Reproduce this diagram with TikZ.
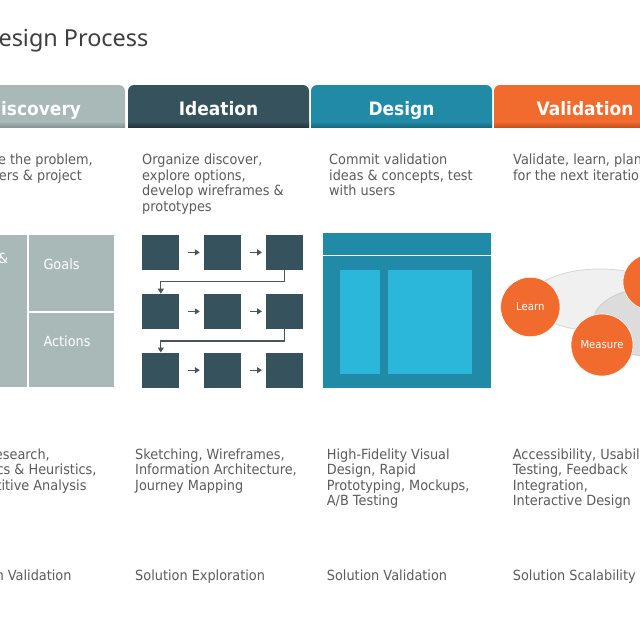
\documentclass[tikz,border=0pt]{standalone}
\usepackage{fontspec}
\setmainfont{DejaVu Sans}[FakeStretch=0.92]
\newfontfamily\titlefont{Noto Sans}
\usetikzlibrary{arrows.meta}
\definecolor{txt}{HTML}{5C5C5C}
\definecolor{ttl}{HTML}{3F3F3F}
\definecolor{disc}{HTML}{A8B9B8}
\definecolor{discs}{HTML}{859694}
\definecolor{idea}{HTML}{36525C}
\definecolor{ideas}{HTML}{22363D}
\definecolor{dsgn}{HTML}{218BA7}
\definecolor{dsgns}{HTML}{176A80}
\definecolor{dsgnl}{HTML}{2AB7D9}
\definecolor{vald}{HTML}{F26B2E}
\definecolor{valds}{HTML}{C4521F}
\definecolor{arrc}{HTML}{4A5559}
\definecolor{ellA}{HTML}{F0F0F0}
\definecolor{ellAb}{HTML}{D6D6D6}
\definecolor{ellB}{HTML}{DCDCDC}
\definecolor{ellBb}{HTML}{CCCCCC}
\newcommand\mytab[6]{%
  \fill[#3] (#1,127) [rounded corners=6pt] -- (#1,85) -- (#2,85) [sharp corners] -- (#2,127) -- cycle;
  \shade[top color=#3, bottom color=#4] (#1,121.5) rectangle (#2,127);
  \node[tabtxt] (#6) at ({(#1+#2)/2},115) {#5};}
\begin{document}
\begin{tikzpicture}[x=1pt,y=-1pt,
  desc/.style={font=\fontsize{14}{15.5}\selectfont, text=txt, inner sep=0pt},
  tabtxt/.style={font=\fontsize{18.5}{20}\selectfont\bfseries, text=white, anchor=base, inner sep=0pt},
  sq/.style={fill=idea, minimum width=37pt, minimum height=35pt, inner sep=0pt},
  arr/.style={draw=arrc, line width=1.3pt, -{Triangle[length=5pt,width=6pt]}},
  circ/.style={circle, fill=vald, draw=white, line width=0.6pt, inner sep=0pt, text=white, font=\fontsize{11}{12}\selectfont},
  boxtxt/.style={font=\fontsize{14}{15}\selectfont, text=white, inner sep=0pt, anchor=base west}]
\useasboundingbox (0,0) rectangle (640,640);
\clip (0,0) rectangle (640,640);
\fill[white] (0,0) rectangle (640,640);

% title
\node[font=\titlefont\fontsize{23.4}{26}\selectfont, text=ttl, anchor=base east, inner sep=0pt] (title) at (148.5,46) {Design Process};

% tabs
\mytab{-57}{125}{disc}{discs}{Discovery}{tdisc}
\mytab{128}{309}{idea}{ideas}{Ideation}{tidea}
\mytab{311}{492}{dsgn}{dsgns}{Design}{tdsgn}
\mytab{494}{676}{vald}{valds}{Validation}{tvald}

% top descriptions
\node[desc, anchor=base east] (dd1) at (93,164.7) {Define the problem,};
\node[desc, anchor=base east] (dd2) at (82,180.2) {users \& project};
\foreach \t [count=\i] in {{Organize discover,},{explore options,},{develop wireframes \&},{prototypes}}
  \node[desc, anchor=base west] (id\i) at (142,{164.7+15.5*(\i-1)}) {\t};
\foreach \t [count=\i] in {{Commit validation},{ideas \& concepts, test},{with users}}
  \node[desc, anchor=base west] (de\i) at (329,{164.7+15.5*(\i-1)}) {\t};
\foreach \t [count=\i] in {{Validate, learn, plan},{for the next iteration}}
  \node[desc, anchor=base west] (vd\i) at (513,{164.7+15.5*(\i-1)}) {\t};

% discovery graphic
\fill[disc] (-100,235) rectangle (26.7,387);
\fill[disc] (28.7,235) rectangle (114,310.7);
\fill[disc] (28.7,312.5) rectangle (114,387);
\node[boxtxt, anchor=base east] (needs) at (8.5,263) {Users \&};
\node[boxtxt] (goals) at (43.3,269.5) {Goals};
\node[boxtxt] (actions) at (43.3,346) {Actions};

% ideation graphic
\foreach \r/\y in {0/252.4,1/311.4,2/370.2}{
  \foreach \c/\x in {1/160.8,2/222.5,3/284.7}{
    \pgfmathtruncatemacro\k{3*\r+\c}
    \node[sq] (s\k) at (\x,\y) {};
  }}
\foreach \a/\b in {1/2,2/3,4/5,5/6,7/8,8/9}
  \draw[arr] ([xshift=8.5pt]s\a.east) -- ([xshift=-4pt]s\b.west);
\draw[arr] (s3.south) -- ++(0,11.7) -| (s4.north);
\draw[arr] (s6.south) -- ++(0,12) -| (s7.north);

% design graphic
\fill[dsgn] (323.3,233.3) rectangle (490.7,388.3);
\draw[white, line width=1pt] (323.3,255.7) -- (490.7,255.7);
\fill[dsgnl] (340,270) rectangle (380,374.3);
\fill[dsgnl] (388.3,270) rectangle (472,374.3);

% validation graphic
\filldraw[fill=ellA, draw=ellAb, line width=0.8pt] (600,300) ellipse [x radius=70pt, y radius=31pt];
\filldraw[fill=ellB, draw=ellBb, line width=0.8pt] (656,322) ellipse [x radius=63pt, y radius=35pt];
\node[circ, minimum size=59.4pt] (learn) at (530.3,307) {Learn};
\node[circ, minimum size=62pt] (measure) at (602,345) {Measure};
\node[circ, minimum size=56pt] (build) at (651,282) {};

% bottom descriptions
\node[desc, anchor=base east] (db1) at (50,459.3) {User Research,};
\node[desc, anchor=base east] (db2) at (96.7,474.8) {Metrics \& Heuristics,};
\node[desc, anchor=base east] (db3) at (86.7,490.3) {Competitive Analysis};
\foreach \t [count=\i] in {{Sketching, Wireframes,},{Information Architecture,},{Journey Mapping}}
  \node[desc, anchor=base west] (ib\i) at (135,{459.3+15.5*(\i-1)}) {\t};
\foreach \t [count=\i] in {{High-Fidelity Visual},{Design, Rapid},{Prototyping, Mockups,},{A/B Testing}}
  \node[desc, anchor=base west] (eb\i) at (326.7,{459.3+15.5*(\i-1)}) {\t};
\foreach \t [count=\i] in {{Accessibility, Usability},{Testing, Feedback},{Integration,},{Interactive Design}}
  \node[desc, anchor=base west] (vb\i) at (512.7,{459.3+15.5*(\i-1)}) {\t};

% bottom row
\node[desc, anchor=base east] (dr) at (71.7,580) {Problem Validation};
\node[desc, anchor=base west] (ir) at (135,580) {Solution Exploration};
\node[desc, anchor=base west] (er) at (326.7,580) {Solution Validation};
\node[desc, anchor=base west] (vr) at (512.7,580) {Solution Scalability};
\end{tikzpicture}
\end{document}
